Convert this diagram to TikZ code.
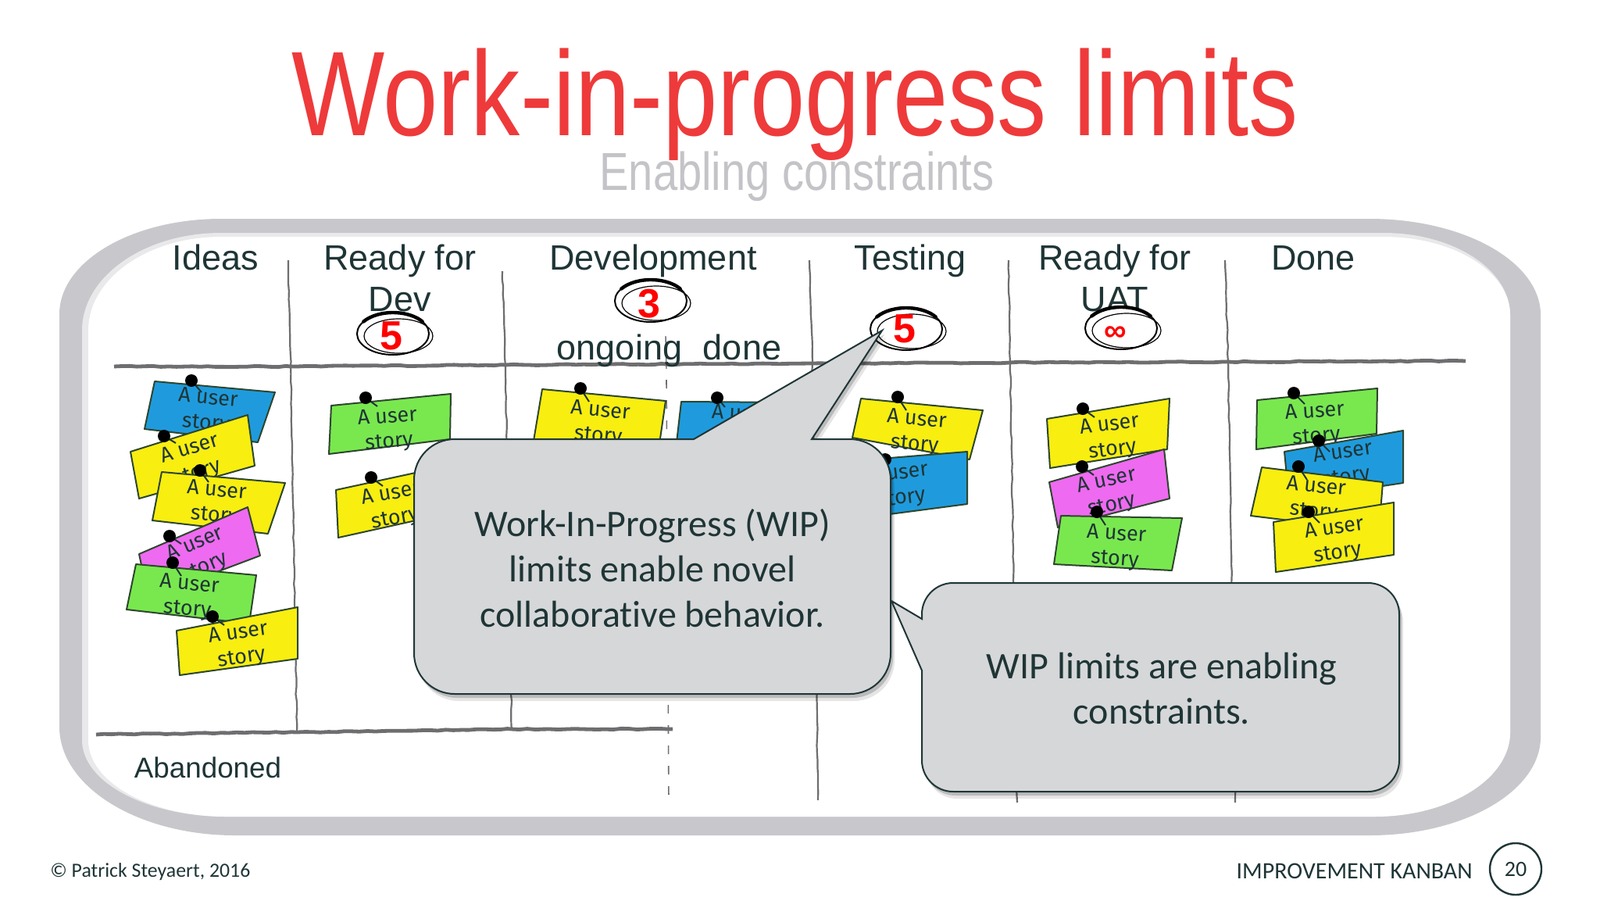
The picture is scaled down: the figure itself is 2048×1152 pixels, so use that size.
\documentclass[tikz,border=0pt]{standalone}
\usepackage{xcolor}
\usepackage{fontspec}
\setmainfont{Liberation Sans}
\newfontfamily\narrowfont[FakeStretch=0.82]{Liberation Sans}
\newfontfamily\bubblefont[Ligatures=NoCommon]{Carlito}
\newfontfamily\cardfont{Fira Sans}
\usetikzlibrary{shadows,decorations.pathmorphing}

\definecolor{inkdark}{RGB}{31,53,54}
\definecolor{cardyellow}{RGB}{248,238,16}
\definecolor{cardblue}{RGB}{31,155,221}
\definecolor{cardgreen}{RGB}{121,232,79}
\definecolor{cardpink}{RGB}{238,106,240}
\definecolor{framedark}{RGB}{200,200,204}
\definecolor{framelight}{RGB}{233,233,235}
\definecolor{bubblegray}{RGB}{214,215,217}
\definecolor{titlered}{RGB}{238,58,58}
\definecolor{subgray}{RGB}{196,196,200}
\definecolor{handgray}{RGB}{110,110,112}

\begin{document}
\begin{tikzpicture}[x=0.5pt,y=0.5pt,yscale=-1,xscale=1,
  usercard/.style={draw={rgb,255:red,45;green,70;blue,45},line width=1pt,line join=round},
  cardtext/.style={text=inkdark,font=\cardfont\fontsize{13.5}{16}\selectfont,align=center,inner sep=0pt,yshift=-1.3pt},
  pinhead/.style={fill=black},
  pinshaft/.style={draw=inkdark,line width=1pt},
  handline/.style={draw=handgray,line width=1.1pt,decorate,decoration={random steps,segment length=5pt,amplitude=.35pt}},
  handthick/.style={handline,line width=2.4pt},
  headtext/.style={anchor=base,text=inkdark,font=\fontsize{22.5}{27}\selectfont,inner sep=0pt},
  ovalmain/.style={draw=black,line width=1pt,fill=white},
  ovalthin/.style={draw=black,line width=.6pt},
  ovaltop/.style={draw=black,line width=2.2pt,line cap=round},
  limitnum/.style={text=red,font=\bfseries\fontsize{26}{26}\selectfont,inner sep=0pt},
  bubble/.style={draw=inkdark,line width=1pt,fill=bubblegray,line join=miter,
    drop shadow={shadow xshift=2.5pt,shadow yshift=-4.5pt,opacity=.1,fill=black},
    drop shadow={shadow xshift=1.5pt,shadow yshift=-2.5pt,opacity=.18,fill=black}},
  bubbletext/.style={text=inkdark,font=\bubblefont\fontsize{24}{29}\selectfont,align=center,inner sep=0pt},
  foottext/.style={text=inkdark,font=\bubblefont\fontsize{14}{16}\selectfont,inner sep=0pt}]
\useasboundingbox (0,0) rectangle (2048,1152);
\fill [white] (0,0) rectangle (2048,1152);

% Title
\draw (1020,243) node (subtitle) [anchor=base,text=subgray,font=\narrowfont\fontsize{34.2}{36}\selectfont,inner sep=0pt] {Enabling constraints};
\draw (1018,173) node (title) [anchor=base,text=titlered,font=\narrowfont\fontsize{77}{80}\selectfont,inner sep=0pt] {Work-in-progress limits};

%Shape: Board frame
\fill [framedark] (76,402) arc[start angle=180,end angle=270,x radius=207,y radius=122] -- (1753,280) arc[start angle=270,end angle=360,x radius=219,y radius=123] -- (1972,943) arc[start angle=0,end angle=90,x radius=219,y radius=126] -- (301,1069) arc[start angle=90,end angle=180,x radius=225,y radius=139] -- cycle ;
\fill [framelight] (105,423) arc[start angle=180,end angle=270,x radius=178,y radius=125] -- (1771,298) arc[start angle=270,end angle=360,x radius=162,y radius=105] -- (1933,937) arc[start angle=0,end angle=90,x radius=174,y radius=108] -- (290,1045) arc[start angle=90,end angle=180,x radius=185,y radius=98] -- cycle ;
\fill [white] (113,423) arc[start angle=180,end angle=270,x radius=170,y radius=120] -- (1771,303) arc[start angle=270,end angle=360,x radius=162,y radius=100] -- (1933,937) arc[start angle=0,end angle=90,x radius=174,y radius=108] -- (290,1045) arc[start angle=90,end angle=180,x radius=177,y radius=98] -- cycle ;

%Shape: Board lines
\draw [handline] (369,333) -- (372,468) -- (380,937) ;
\draw [handline] (643,347) -- (647,468) -- (655,933) ;
\draw [handline] (1036,333) -- (1040,463) -- (1047,1024) ;
\draw [handline] (1291,333) -- (1293,463) -- (1302,1027) ;
\draw [handline] (1568,333) -- (1572,463) -- (1581,1027) ;
\draw [handthick] (146,469) -- (372,469) -- (647,467) -- (1040,465) -- (1293,464) -- (1572,463) -- (1876,462) ;
\draw [handthick] (123,940) -- (380,937) -- (655,933) -- (861,933) ;
\draw [draw=handgray,line width=.7pt] (852,430) -- (853,472) ;
\draw [draw=handgray,line width=.8pt,dash pattern=on 5.5pt off 7.5pt] (853,486) -- (856,1027) ;

% Text Node
\draw (276,345) node (ideas) [headtext] {Ideas};
\draw (512,345) node (readydev) [headtext] {Ready for};
\draw (512,398) node (dev) [headtext] {Dev};
\draw (836,345) node (development) [headtext] {Development};
\draw (793,460) node (ongoing) [headtext] {ongoing};
\draw (950,460) node (done) [headtext] {done};
\draw (1165,345) node (testing) [headtext] {Testing};
\draw (1427,345) node (readyuat) [headtext] {Ready for};
\draw (1427,398) node (uat) [headtext] {UAT};
\draw (1681,345) node (donecol) [headtext] {Done};
\draw (266,995) node (abandoned) [headtext,font=\fontsize{18.4}{22}\selectfont] {Abandoned};

%Shape: Limit ovals
\draw [ovalmain] (503,427) ellipse [x radius=46,y radius=27] ;
\draw [ovalthin] (510,430) ellipse [x radius=44,y radius=22] ;
\draw [ovaltop] (503,427) ++(215:46 and 27) arc[start angle=215,end angle=325,x radius=46,y radius=27] ;
\draw (501,430) node (limitdev) [limitnum] {5};
\draw [ovalmain] (833,385) ellipse [x radius=46,y radius=27] ;
\draw [ovalthin] (840,388) ellipse [x radius=44,y radius=22] ;
\draw [ovaltop] (833,385) ++(215:46 and 27) arc[start angle=215,end angle=325,x radius=46,y radius=27] ;
\draw (831,389) node (limitdevelop) [limitnum] {3};
\draw [ovalmain] (1160,421) ellipse [x radius=46,y radius=27] ;
\draw [ovalthin] (1167,424) ellipse [x radius=44,y radius=22] ;
\draw [ovaltop] (1160,421) ++(215:46 and 27) arc[start angle=215,end angle=325,x radius=46,y radius=27] ;
\draw (1158,421) node (limittest) [limitnum] {5};
\draw [ovalmain] (1435,420) ellipse [x radius=46,y radius=27] ;
\draw [ovalthin] (1442,423) ellipse [x radius=44,y radius=22] ;
\draw [ovaltop] (1435,420) ++(215:46 and 27) arc[start angle=215,end angle=325,x radius=46,y radius=27] ;
\draw (1428,427) node (limituat) [limitnum,font=\bfseries\fontsize{20}{20}\selectfont] {∞};

%Shape: Ideas cards
\draw [usercard,fill=cardblue] (198,488) -- (352,502) -- (330,566) -- (185,549) -- cycle ;
\draw [pinshaft] (245,487) -- ++(13,15) ;
\fill [pinhead] (245,487) circle (8) ;
\draw (265,524) node (ideasa) [cardtext,rotate=-5] {A user\\story};
\draw [usercard,fill=cardyellow] (167,578) -- (317,531) -- (326,596) -- (178,638) -- cycle ;
\draw [pinshaft] (210,558) -- ++(15,9) ;
\fill [pinhead] (210,558) circle (8) ;
\draw (248,588) node (ideasb) [cardtext,rotate=17] {A user\\story};
\draw [usercard,fill=cardyellow] (207,604) -- (365,618) -- (343,683) -- (195,666) -- cycle ;
\draw [pinshaft] (256,602) -- ++(11,15) ;
\fill [pinhead] (256,602) circle (8) ;
\draw (276,642) node (ideasc) [cardtext,rotate=-5] {A user\\story};
\draw [usercard,fill=cardpink] (178,709) -- (317,649) -- (333,711) -- (190,765) -- cycle ;
\draw [pinshaft] (217,686) -- ++(15,10) ;
\fill [pinhead] (217,686) circle (8) ;
\draw (256,709) node (ideasd) [cardtext,rotate=23] {A user\\story};
\draw [usercard,fill=cardgreen] (174,722) -- (328,736) -- (319,798) -- (162,780) -- cycle ;
\draw [pinshaft] (221,720) -- ++(11,17) ;
\fill [pinhead] (221,720) circle (8) ;
\draw (241,762) node (idease) [cardtext,rotate=-5] {A user\\story};
\draw [usercard,fill=cardyellow] (226,807) -- (381,777) -- (381,843) -- (230,864) -- cycle ;
\draw [pinshaft] (272,789) -- ++(15,11) ;
\fill [pinhead] (272,789) circle (8) ;
\draw (307,824) node (ideasf) [cardtext,rotate=8] {A user\\story};

%Shape: Ready for Dev cards
\draw [usercard,fill=cardgreen] (424,519) -- (577,504) -- (576,562) -- (421,581) -- cycle ;
\draw [pinshaft] (468,509) -- ++(15,11) ;
\fill [pinhead] (468,509) circle (8) ;
\draw (497,548) node (devcarda) [cardtext,rotate=4] {A user\\story};
\draw [usercard,fill=cardyellow] (430,627) -- (578,595) -- (582,655) -- (433,688) -- cycle ;
\draw [pinshaft] (475,611) -- ++(15,11) ;
\fill [pinhead] (475,611) circle (8) ;
\draw (503,646) node (devcardb) [cardtext,rotate=10] {A user\\story};

%Shape: Development cards
\draw [usercard,fill=cardyellow] (694,498) -- (852,513) -- (843,575) -- (682,570) -- cycle ;
\draw [pinshaft] (743,497) -- ++(11,17) ;
\fill [pinhead] (743,497) circle (8) ;
\draw (767,540) node (develcarda) [cardtext,rotate=-5] {A user\\story};
\draw [usercard,fill=cardblue] (872,514) -- (1025,515) -- (1020,575) -- (865,575) -- cycle ;
\draw [pinshaft] (918,509) -- ++(10,12) ;
\fill [pinhead] (918,509) circle (8) ;
\draw (948,544) node (develcardb) [cardtext,rotate=-3] {A user\\story};

%Shape: Testing cards
\draw [usercard,fill=cardyellow] (1102,510) -- (1258,525) -- (1241,588) -- (1091,560) -- cycle ;
\draw [pinshaft] (1149,508) -- ++(11,17) ;
\fill [pinhead] (1149,508) circle (8) ;
\draw (1172,551) node (testcarda) [cardtext,rotate=-5] {A user\\story};
\draw [usercard,fill=cardblue] (1090,590) -- (1238,578) -- (1238,645) -- (1085,665) -- cycle ;
\fill [pinhead] (1133,588) circle (8) ;
\draw (1152,620) node (testcardb) [cardtext,rotate=7] {A user\\story};

%Shape: Ready for UAT cards
\draw [usercard,fill=cardyellow] (1340,536) -- (1497,510) -- (1494,575) -- (1344,599) -- cycle ;
\draw [pinshaft] (1386,523) -- ++(15,11) ;
\fill [pinhead] (1386,523) circle (8) ;
\draw (1422,558) node (uatcarda) [cardtext,rotate=7] {A user\\story};
\draw [usercard,fill=cardpink] (1343,617) -- (1490,575) -- (1497,638) -- (1354,675) -- cycle ;
\draw [pinshaft] (1385,597) -- ++(15,11) ;
\fill [pinhead] (1385,597) circle (8) ;
\draw (1420,629) node (uatcardb) [cardtext,rotate=12] {A user\\story};
\draw [usercard,fill=cardgreen] (1358,660) -- (1513,663) -- (1500,730) -- (1349,722) -- cycle ;
\draw [pinshaft] (1404,655) -- ++(11,17) ;
\fill [pinhead] (1404,655) circle (8) ;
\draw (1428,698) node (uatcardc) [cardtext,rotate=-4] {A user\\story};

%Shape: Done cards
\draw [usercard,fill=cardgreen] (1609,512) -- (1763,497) -- (1762,555) -- (1608,575) -- cycle ;
\draw [pinshaft] (1656,503) -- ++(14,14) ;
\fill [pinhead] (1656,503) circle (8) ;
\draw (1684,541) node (donecarda) [cardtext,rotate=4] {A user\\story};
\draw [usercard,fill=cardblue] (1644,578) -- (1796,551) -- (1796,618) -- (1650,640) -- cycle ;
\draw [pinshaft] (1688,564) -- ++(14,14) ;
\fill [pinhead] (1688,564) circle (8) ;
\draw (1721,593) node (donecardb) [cardtext,rotate=8] {A user\\story};
\draw [usercard,fill=cardyellow] (1615,598) -- (1770,617) -- (1765,680) -- (1601,660) -- cycle ;
\draw [pinshaft] (1662,597) -- ++(11,17) ;
\fill [pinhead] (1662,597) circle (8) ;
\draw (1683,637) node (donecardc) [cardtext,rotate=-6] {A user\\story};
\draw [usercard,fill=cardyellow] (1630,668) -- (1784,643) -- (1784,710) -- (1633,732) -- cycle ;
\draw [pinshaft] (1675,655) -- ++(14,14) ;
\fill [pinhead] (1675,655) circle (8) ;
\draw (1710,690) node (donecardd) [cardtext,rotate=8] {A user\\story};

%Shape: Speech bubbles
\draw [bubble] (582,562) -- (888,562) -- (1129,423) -- (1039,562) -- (1088,562) arc[start angle=270,end angle=360,radius=52] -- (1140,836) arc[start angle=0,end angle=90,radius=52] -- (582,888) arc[start angle=90,end angle=180,radius=52] -- (530,614) arc[start angle=180,end angle=270,radius=52] -- cycle ;
\draw [bubble] (1220,746) -- (1751,746) arc[start angle=270,end angle=360,radius=40] -- (1791,973) arc[start angle=0,end angle=90,radius=40] -- (1220,1013) arc[start angle=90,end angle=180,radius=40] -- (1180,858) -- (1141,769) -- (1180,792) -- (1180,786) arc[start angle=180,end angle=270,radius=40] -- cycle ;

% Text Node
\draw (835,727) node (bubbleone) [bubbletext] {Work-In-Progress (WIP)\\limits enable novel\\collaborative behavior.};
\draw (1487,881) node (bubbletwo) [bubbletext] {WIP limits are enabling\\constraints.};

% Footer
\draw (64,1116) node (copyright) [foottext,anchor=west,font=\bubblefont\fontsize{12.9}{16}\selectfont] {© Patrick Steyaert, 2016};
\draw (1885,1115) node (brand) [foottext,anchor=east,font=\bubblefont\fontsize{15}{16}\selectfont] {IMPROVEMENT KANBAN};
\draw (1940,1112) node (pagenum) [circle,draw=inkdark,line width=1.2pt,minimum size=33pt,inner sep=0pt,text=inkdark,font=\bubblefont\fontsize{14}{16}\selectfont] {20};

\end{tikzpicture}
\end{document}
